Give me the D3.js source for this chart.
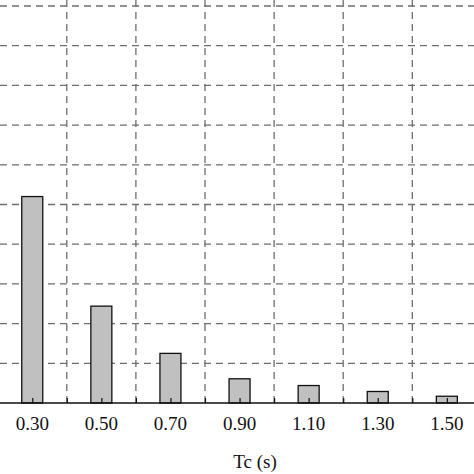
<!DOCTYPE html>
<html><head><meta charset="utf-8">
<script src="https://cdn.jsdelivr.net/npm/d3@7"></script>
<style>body{margin:0;background:#fff} text{font-family:"Liberation Serif","Times New Roman",Times,serif}</style>
</head><body>
<script>
var categories = [0.30, 0.50, 0.70, 0.90, 1.10, 1.30, 1.50];
var values = [5.2, 2.44, 1.25, 0.61, 0.44, 0.29, 0.17];
var tickLabels = ["0.30", "0.50", "0.70", "0.90", "1.10", "1.30", "1.50"];
var gridX = [0.4, 0.6, 0.8, 1.0, 1.2, 1.4];
var gridY = [1, 2, 3, 4, 5, 6, 7, 8, 9, 10];

var W = 474, H = 474, base = 403;
var svg = d3.select("body").append("svg").attr("width", W).attr("height", H);

var x = d3.scaleLinear().domain([0.2, 1.6]).range([-2.3, 481.4]);
var y = d3.scaleLinear().domain([0, 10]).range([base, base - 397]);

// grid
svg.selectAll(".gy").data(gridY).enter().append("line")
  .attr("x1", 0).attr("x2", W).attr("y1", function(d){return y(d);}).attr("y2", function(d){return y(d);})
  .attr("stroke", "#6e6e6e").attr("stroke-width", 1.3).attr("stroke-dasharray", "7,5");
svg.selectAll(".gx").data(gridX).enter().append("line")
  .attr("x1", function(d){return x(d);}).attr("x2", function(d){return x(d);})
  .attr("y1", 0).attr("y2", base)
  .attr("stroke", "#6e6e6e").attr("stroke-width", 1.3).attr("stroke-dasharray", "7,5");

// bars
var bw = 21;
svg.selectAll(".bar").data(values).enter().append("rect")
  .attr("x", function(d, i){return x(categories[i]) - bw/2;})
  .attr("y", function(d){return y(d);})
  .attr("width", bw)
  .attr("height", function(d){return y(0) - y(d);})
  .attr("fill", "#c0c0c0").attr("stroke", "#111").attr("stroke-width", 1.3);

// x axis
var ax = svg.append("g").attr("transform", "translate(0," + base + ")")
  .call(d3.axisBottom(x).tickValues(categories.concat(gridX)).tickSize(-5).tickFormat(""));
ax.select(".domain").remove();
ax.selectAll(".tick line").attr("stroke", "#111").attr("stroke-width", 1.2);
svg.append("line").attr("x1", 0).attr("x2", W).attr("y1", base).attr("y2", base)
  .attr("stroke", "#111").attr("stroke-width", 1.5);

svg.selectAll(".lbl").data(tickLabels).enter().append("text")
  .attr("x", function(d, i){return x(categories[i]);})
  .attr("y", 430).attr("text-anchor", "middle")
  .attr("font-size", 19).attr("fill", "#111")
  .text(function(d){return d;});

svg.append("text").attr("x", 255).attr("y", 468).attr("text-anchor", "middle")
  .attr("font-size", 19).attr("fill", "#111")
  .text("Tc (s)");
</script>
</body></html>
